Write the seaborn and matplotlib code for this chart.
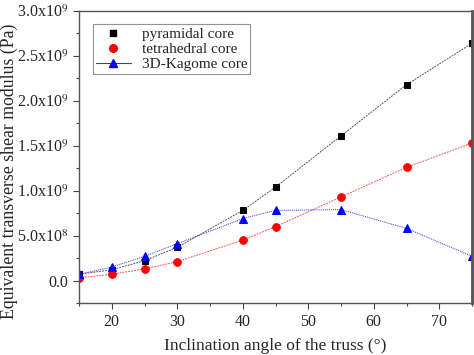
import seaborn as sns
import pandas as pd
import matplotlib.pyplot as plt
from matplotlib.lines import Line2D
from matplotlib.ticker import FixedLocator, MultipleLocator

# data
angle = [15, 20, 25, 30, 40, 45, 55, 65, 75]
pyramidal = [0.07e9, 0.12e9, 0.22e9, 0.37e9, 0.78e9, 1.04e9, 1.61e9, 2.18e9, 2.64e9]
tetrahedral = [0.03e9, 0.07e9, 0.13e9, 0.21e9, 0.45e9, 0.60e9, 0.93e9, 1.26e9, 1.53e9]
kagome = [0.07e9, 0.15e9, 0.27e9, 0.41e9, 0.69e9, 0.78e9, 0.79e9, 0.58e9, 0.27e9]
yticks = [0, 0.5e9, 1.0e9, 1.5e9, 2.0e9, 2.5e9, 3.0e9]
ylabels = ['0.0', r'5.0x10$^{8}$', r'1.0x10$^{9}$', r'1.5x10$^{9}$',
           r'2.0x10$^{9}$', r'2.5x10$^{9}$', r'3.0x10$^{9}$']

df = pd.DataFrame({'angle': angle, 'pyramidal core': pyramidal,
                   'tetrahedral core': tetrahedral, '3D-Kagome core': kagome})

sns.set_style('ticks')
plt.rcParams['font.family'] = ['Liberation Serif', 'DejaVu Serif']
plt.rcParams['mathtext.fontset'] = 'stix'

fig = plt.figure(figsize=(4.74, 3.55), dpi=100)
ax = fig.add_axes([79 / 474, 1 - 303 / 355, (472 - 79) / 474, (303 - 11) / 355])

sns.lineplot(data=df, x='angle', y='pyramidal core', ax=ax, color='#555555', lw=0.7,
             ls=(0, (2, 1)), marker='s', markersize=5, markerfacecolor='black',
             markeredgecolor='black')
sns.lineplot(data=df, x='angle', y='tetrahedral core', ax=ax, color='#ff5555', lw=0.7,
             ls=(0, (2, 1)), marker='o', markersize=5.5, markerfacecolor='red',
             markeredgecolor='red')
sns.lineplot(data=df, x='angle', y='3D-Kagome core', ax=ax, color='#3333ee', lw=0.7,
             ls=(0, (1, 1)), marker='^', markersize=6, markerfacecolor='blue',
             markeredgecolor='blue')

handles = [Line2D([], [], ls='none', marker='s', color='black', markersize=5),
           Line2D([], [], ls='none', marker='o', color='red', markersize=5.5),
           Line2D([], [], color='#3333ee', lw=0.8, marker='^', markerfacecolor='blue',
                  markeredgecolor='blue', markersize=6)]
leg = ax.legend(handles, ['pyramidal core', 'tetrahedral core', '3D-Kagome core'],
                loc='upper left', bbox_to_anchor=(0.035, 0.955), fontsize=11,
                frameon=True, fancybox=False, handlelength=2.3, borderpad=0.2,
                labelspacing=0.1, handletextpad=0.7, borderaxespad=0)
leg.get_frame().set_edgecolor('#777777')
leg.get_frame().set_linewidth(0.8)

ax.set_xlim(15, 75)
ax.set_ylim(-0.25e9, 3.0e9)
ax.set_xticks([20, 30, 40, 50, 60, 70])
ax.xaxis.set_minor_locator(MultipleLocator(5))
ax.yaxis.set_major_locator(FixedLocator(yticks))
ax.set_yticklabels(ylabels)
ax.yaxis.set_minor_locator(MultipleLocator(0.25e9))
ax.tick_params(labelsize=11.5, length=4, width=0.8, color='#444444', pad=4)
ax.tick_params(which='minor', length=2.5, width=0.8, color='#444444')
for s in ax.spines.values():
    s.set_color('#555555')
    s.set_linewidth(1.0)
ax.spines['right'].set_linewidth(2.0)

ax.set_xlabel('Inclination angle of the truss (°)', fontsize=12.5, labelpad=6)
ax.set_ylabel('Equivalent transverse shear modulus (Pa)', fontsize=12.8)
ax.yaxis.set_label_coords(-0.155, 0.45)

fig.savefig('out.png', dpi=100)
